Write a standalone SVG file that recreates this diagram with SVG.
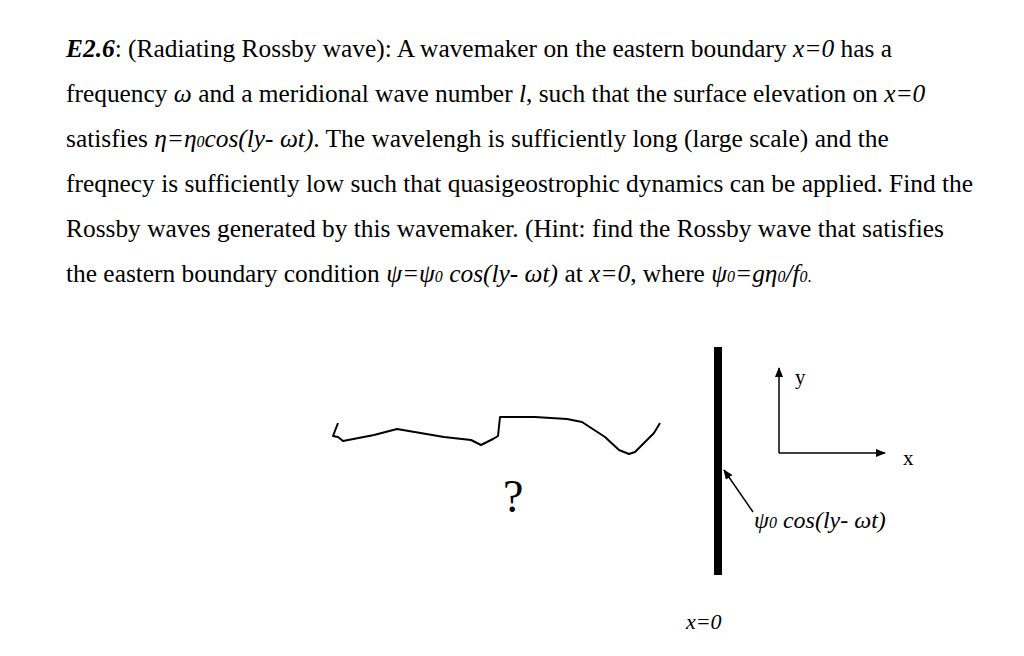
<svg xmlns="http://www.w3.org/2000/svg" width="1024" height="656" viewBox="0 0 1024 656">
<style>
text{font-family:"Liberation Serif","DejaVu Serif",serif;fill:#000}
.t{font-size:25.4px}
.i{font-style:italic}
.s{font-size:16px}
</style>
<defs><marker id="ah" markerWidth="10" markerHeight="8" refX="9" refY="4" orient="auto" markerUnits="userSpaceOnUse"><path d="M0,0L10,4L0,8z" fill="#000"/></marker></defs>
<rect width="1024" height="656" fill="#fff"/>
<g id="problem" class="t">
<text x="66" y="57"><tspan font-weight="bold" font-style="italic">E2.6</tspan>: (Radiating Rossby wave): A wavemaker on the eastern boundary <tspan class="i">x=0</tspan> has a</text>
<text x="66" y="102">frequency <tspan class="i">ω</tspan> and a meridional wave number <tspan class="i">l</tspan>, such that the surface elevation on <tspan class="i">x=0</tspan></text>
<text x="66" y="147">satisfies <tspan class="i">η=η<tspan class="s">0</tspan>cos(ly- ωt)</tspan>. The wavelengh is sufficiently long (large scale) and the</text>
<text x="66" y="192">freqnecy is sufficiently low such that quasigeostrophic dynamics can be applied. Find the</text>
<text x="66" y="237">Rossby waves generated by this wavemaker. (Hint: find the Rossby wave that satisfies</text>
<text x="66" y="282">the eastern boundary condition <tspan class="i">ψ=ψ<tspan class="s">0</tspan> cos(ly- ωt)</tspan> at <tspan class="i">x=0</tspan>,  where <tspan class="i">ψ<tspan class="s">0</tspan>=gη<tspan class="s">0</tspan>/f<tspan class="s">0</tspan></tspan><tspan class="s">.</tspan></text>
</g>
<g id="wave">
<polyline points="338,423 333,436 338,437 343,441 374,435 397,429 444,437 471,440 481,445 493,439 498,436 500,417 535,417 567,419 582,422 605,437 619,450 629,454 635,452 654,433 660,423" fill="none" stroke="#000" stroke-width="2" stroke-linejoin="round"/>
<text x="503" y="512" font-size="46">?</text>
</g>
<g id="wall">
<rect x="714" y="347" width="8" height="228" fill="#000"/>
<text x="686" y="629" font-size="22" class="i">x=0</text>
</g>
<g id="axes">
<line x1="779" y1="453" x2="885" y2="453" stroke="#000" stroke-width="1.5" marker-end="url(#ah)"/>
<line x1="779" y1="453" x2="779" y2="368" stroke="#000" stroke-width="1.5" marker-end="url(#ah)"/>
<text x="795" y="384" font-size="21">y</text>
<text x="903" y="465" font-size="21">x</text>
</g>
<g id="connectors">
<line x1="753" y1="512" x2="724" y2="470" stroke="#000" stroke-width="1.5" marker-end="url(#ah)"/>
</g>
<g id="label">
<text x="754" y="528" font-size="24" class="i">ψ<tspan font-size="16">0</tspan> cos(ly- ωt)</text>
</g>
</svg>
